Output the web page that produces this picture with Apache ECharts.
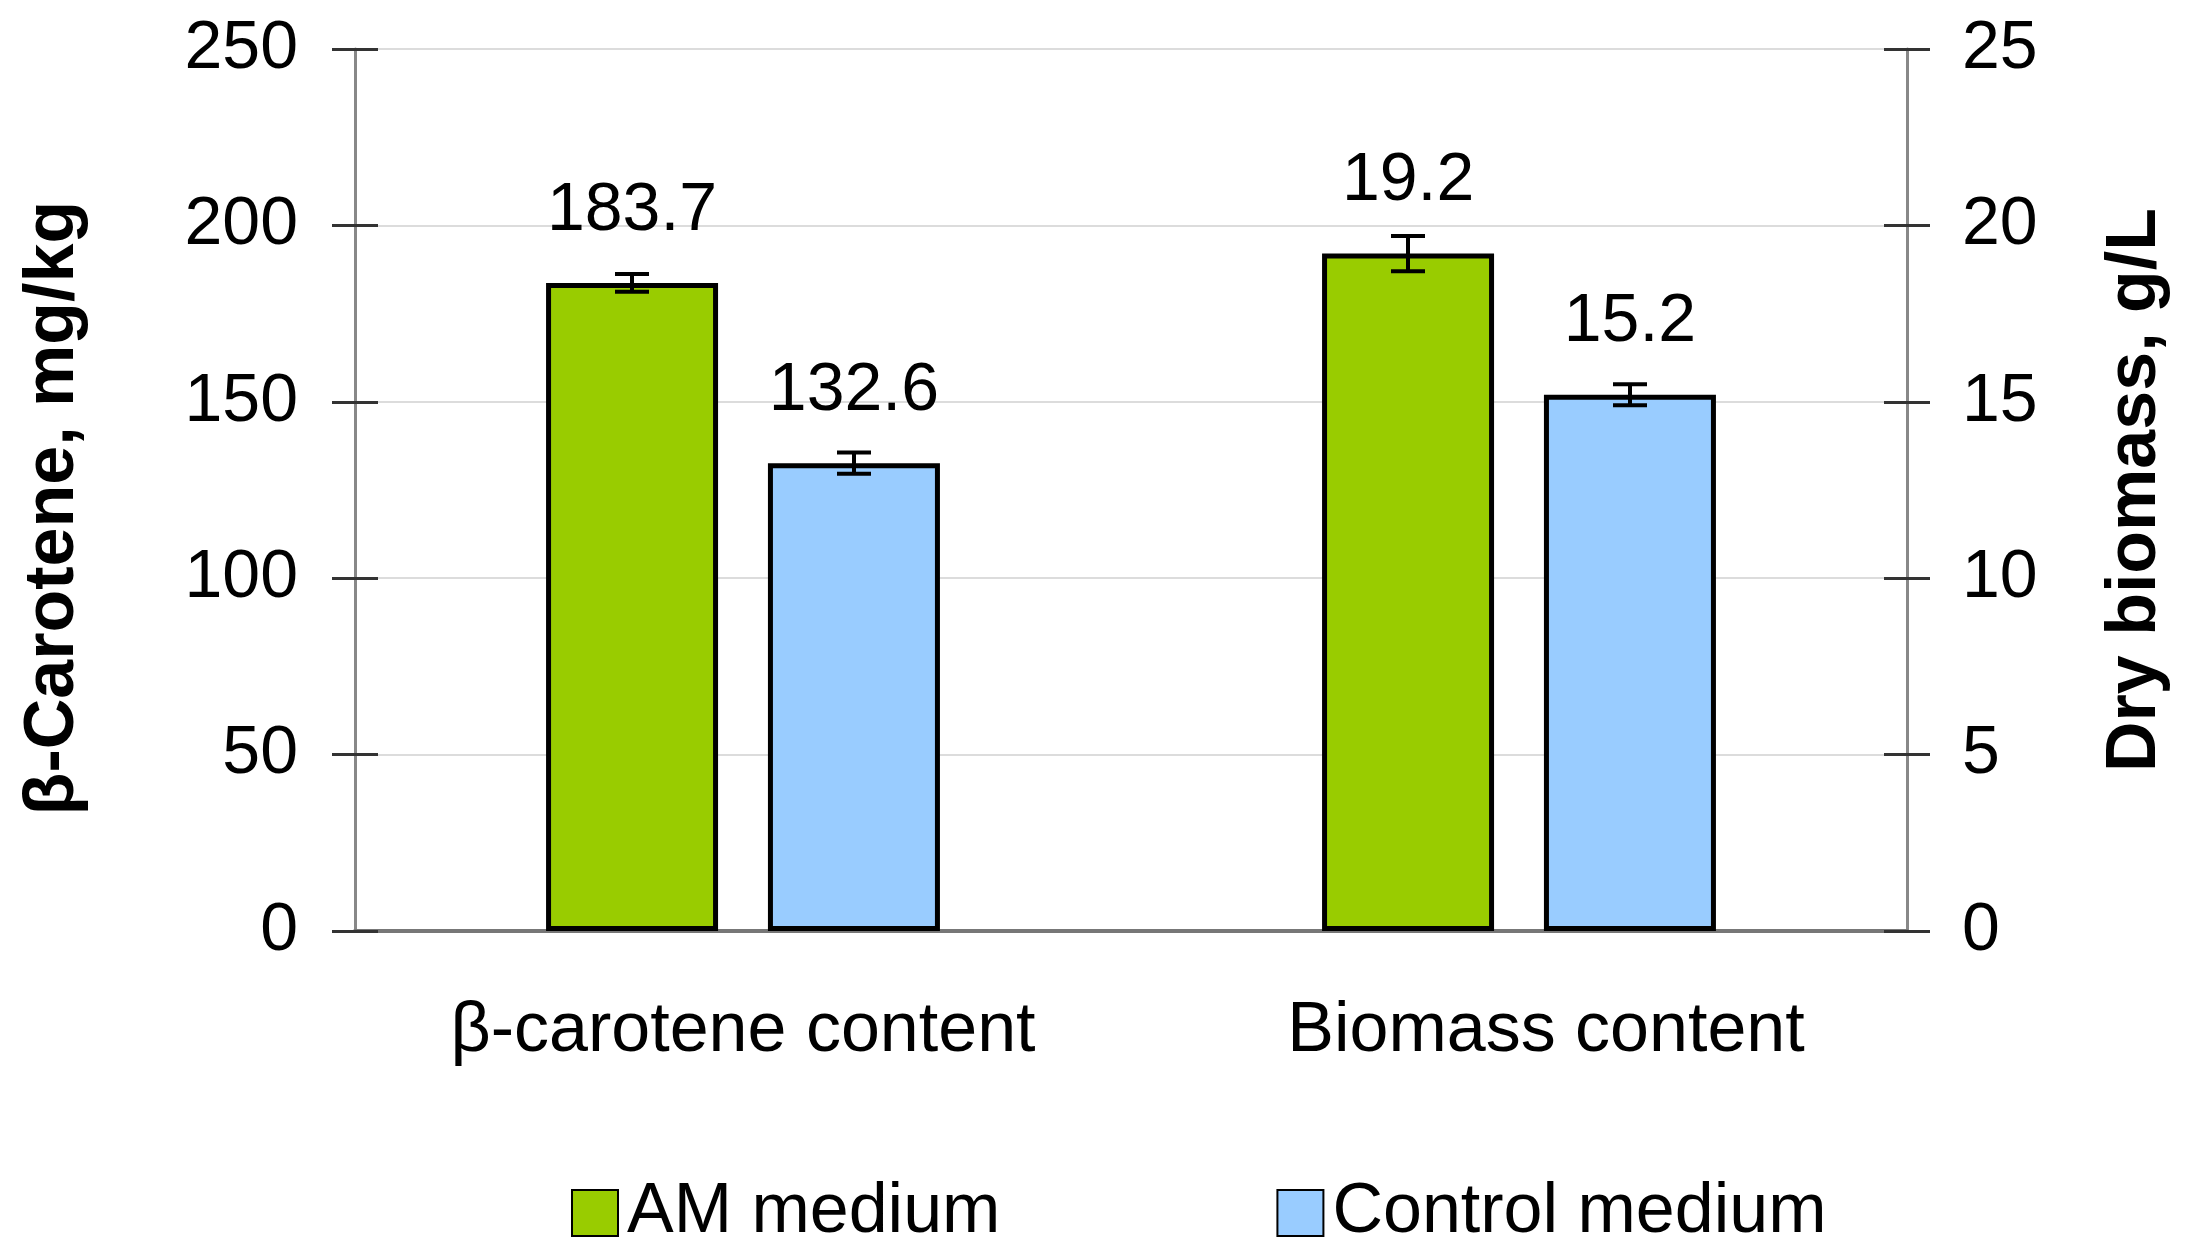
<!DOCTYPE html>
<html>
<head>
<meta charset="utf-8">
<script src="https://cdn.jsdelivr.net/npm/echarts@6/dist/echarts.min.js"></script>
<style>
  html, body { margin: 0; padding: 0; background: #fff; }
  #chart { width: 2193px; height: 1260px; }
</style>
</head>
<body>
<div id="chart"></div>
<script>
// Data
const categories = ["β-carotene content", "Biomass content"];
const seriesNames = ["AM medium", "Control medium"];
// first category is on the left axis (mg/kg), second on the right axis (g/L)
const amValues = [183.7, 19.2];
const controlValues = [132.6, 15.2];
const amErrors = [2.5, 0.5];
const controlErrors = [3, 0.3];
const leftTicks = [0, 50, 100, 150, 200, 250];
const rightTicks = [0, 5, 10, 15, 20, 25];

const FONT = "'Liberation Sans', Arial, sans-serif";
const BAR_W = 172;
const BAR_OFFSET = 111; // half distance between bar centres
const LABEL_SHIFT = [0, 54]; // the second category label sits a bit to the right

document.addEventListener("DOMContentLoaded", function () {
  const chart = echarts.init(document.getElementById("chart"));

  // only keep the value for the category that belongs to this axis
  function onAxis(values, idx) {
    return values.map(function (v, i) {
      return i === idx ? v : null;
    });
  }

  function errorData(idx) {
    return [
      [idx, amValues[idx], amErrors[idx], -1],
      [idx, controlValues[idx], controlErrors[idx], 1],
    ];
  }

  function renderError(params, api) {
    const x = api.coord([api.value(0), api.value(1)])[0] + api.value(3) * BAR_OFFSET;
    const top = api.coord([api.value(0), api.value(1) + api.value(2)])[1];
    const bot = api.coord([api.value(0), api.value(1) - api.value(2)])[1];
    const half = 17;
    const style = { stroke: "#000", lineWidth: 4 };
    return {
      type: "group",
      children: [
        { type: "line", shape: { x1: x, y1: top, x2: x, y2: bot }, style: style },
        { type: "line", shape: { x1: x - half, y1: top, x2: x + half, y2: top }, style: style },
        { type: "line", shape: { x1: x - half, y1: bot, x2: x + half, y2: bot }, style: style },
      ],
    };
  }

  const barLabel = {
    show: true,
    position: "top",
    distance: 38,
    fontSize: 68,
    fontFamily: FONT,
    color: "#000",
  };

  function barSeries(name, data, axisIdx, stack, color) {
    return {
      name: name,
      type: "bar",
      yAxisIndex: axisIdx,
      stack: stack,
      barWidth: BAR_W,
      barGap: "29%",
      data: data,
      itemStyle: { color: color, borderColor: "#000", borderWidth: 5 },
      label: barLabel,
    };
  }

  const option = {
    animation: false,
    backgroundColor: "#fff",
    textStyle: { fontFamily: FONT, color: "#000" },
    grid: { left: 355, right: 286, top: 49, bottom: 329 },
    legend: {
      data: seriesNames,
      left: 571,
      top: 1178,
      padding: 0,
      icon: "rect",
      itemWidth: 46,
      itemHeight: 46,
      itemGap: 276,
      textStyle: { fontSize: 70, fontFamily: FONT, color: "#000", padding: [0, 0, 0, 4] },
    },
    xAxis: {
      type: "category",
      data: categories.map(function (c, i) {
        return { value: c, textStyle: { padding: [0, 0, 0, LABEL_SHIFT[i]] } };
      }),
      axisTick: { show: false },
      axisLine: { lineStyle: { color: "#777", width: 4 } },
      axisLabel: { fontSize: 70, fontFamily: FONT, color: "#000", margin: 66 },
    },
    yAxis: [
      {
        type: "value",
        position: "left",
        min: leftTicks[0],
        max: leftTicks[leftTicks.length - 1],
        interval: leftTicks[1] - leftTicks[0],
        name: "β-Carotene, mg/kg",
        nameLocation: "middle",
        nameGap: 266,
        nameTextStyle: {
          fontSize: 70,
          fontWeight: "bold",
          fontFamily: FONT,
          color: "#000",
          padding: [0, 36, 0, 0],
        },
        axisLine: { show: true, lineStyle: { color: "#888", width: 3 } },
        axisTick: { show: true, length: 23, lineStyle: { color: "#333", width: 3 } },
        axisLabel: { fontSize: 68, fontFamily: FONT, color: "#000", margin: 57 },
        splitLine: { lineStyle: { color: "#dcdcdc", width: 2 } },
      },
      {
        type: "value",
        position: "right",
        min: rightTicks[0],
        max: rightTicks[rightTicks.length - 1],
        interval: rightTicks[1] - rightTicks[0],
        name: "Dry biomass, g/L",
        nameLocation: "middle",
        nameGap: 194,
        nameTextStyle: { fontSize: 70, fontWeight: "bold", fontFamily: FONT, color: "#000" },
        axisLine: { show: true, lineStyle: { color: "#888", width: 3 } },
        axisTick: { show: true, length: 23, lineStyle: { color: "#333", width: 3 } },
        axisLabel: { fontSize: 68, fontFamily: FONT, color: "#000", margin: 55 },
        splitLine: { show: false },
      },
      // inner halves of the crossing ticks
      {
        type: "value",
        position: "left",
        min: leftTicks[0],
        max: leftTicks[leftTicks.length - 1],
        interval: leftTicks[1] - leftTicks[0],
        axisLine: { show: false },
        axisTick: { show: true, inside: true, length: 23, lineStyle: { color: "#333", width: 3 } },
        axisLabel: { show: false },
        splitLine: { show: false },
      },
      {
        type: "value",
        position: "right",
        min: rightTicks[0],
        max: rightTicks[rightTicks.length - 1],
        interval: rightTicks[1] - rightTicks[0],
        axisLine: { show: false },
        axisTick: { show: true, inside: true, length: 23, lineStyle: { color: "#333", width: 3 } },
        axisLabel: { show: false },
        splitLine: { show: false },
      },
    ],
    series: [
      barSeries(seriesNames[0], onAxis(amValues, 0), 0, "am", "#99cc00"),
      barSeries(seriesNames[1], onAxis(controlValues, 0), 0, "ctrl", "#99ccff"),
      barSeries(seriesNames[0], onAxis(amValues, 1), 1, "am", "#99cc00"),
      barSeries(seriesNames[1], onAxis(controlValues, 1), 1, "ctrl", "#99ccff"),
      {
        type: "custom",
        yAxisIndex: 0,
        z: 5,
        silent: true,
        renderItem: renderError,
        data: errorData(0),
      },
      {
        type: "custom",
        yAxisIndex: 1,
        z: 5,
        silent: true,
        renderItem: renderError,
        data: errorData(1),
      },
    ],
  };
  chart.setOption(option);

  window.addEventListener("resize", function () {
    chart.resize();
  });
});
</script>
</body>
</html>
